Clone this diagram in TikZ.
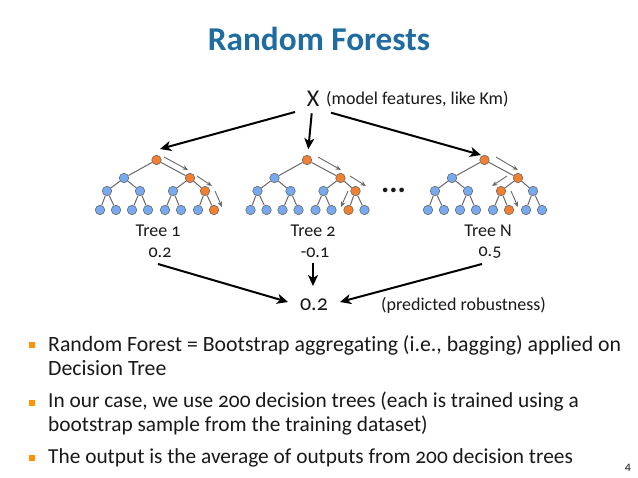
\documentclass[tikz,border=0pt]{standalone}
\usepackage{fontspec}
\setmainfont[Numbers=OldStyle,Ligatures=NoCommon]{Carlito}
\usetikzlibrary{arrows.meta}
\definecolor{titleblue}{RGB}{30,108,160}
\definecolor{txt}{RGB}{25,25,25}
\definecolor{dotblue}{RGB}{118,170,240}
\definecolor{dotorange}{RGB}{242,128,48}
\definecolor{edgegray}{RGB}{105,105,105}
\tikzset{
  x=1pt,y=-1pt,
  dot/.style={circle,draw=edgegray,line width=0.6pt,fill=dotblue,minimum size=9.5pt,inner sep=0pt},
  hot/.style={fill=dotorange},
  edge/.style={draw=edgegray,line width=1pt},
  flow/.style={draw=edgegray,line width=0.9pt,-{Stealth[length=5.5pt,width=4.5pt]}},
  bigarrow/.style={draw=black,line width=2pt,-{Stealth[length=11pt,width=10pt,inset=3pt]}},
  lab/.style={font=\fontsize{18}{20}\selectfont,text=txt,inner sep=0pt},
  body/.style={font=\fontsize{21.8}{24}\selectfont,text=txt,inner sep=0pt,anchor=west},
  bodyb/.style={font=\fontsize{21.35}{24}\selectfont,text=txt,inner sep=0pt,anchor=west},
  bullet/.style={fill=orange!85!yellow,minimum size=6pt,inner sep=0pt},
  c1n1/.style={hot},c1n3/.style={hot},c1n7/.style={hot},c1n15/.style={hot},
  c2n1/.style={hot},c2n3/.style={hot},c2n7/.style={hot},c2n14/.style={hot},
  c3n1/.style={hot},c3n3/.style={hot},c3n6/.style={hot},c3n13/.style={hot},
}
\newcommand{\maketree}[2]{%
  \begin{scope}[xshift=#2pt]
    \foreach \i/\px/\py in {1/156.5/160,2/124/178,3/190/178,4/107/191,5/140/191,6/173/191,7/205/191,
      8/100/210,9/116/210,10/132/210,11/148/210,12/165/210,13/181/210,14/198/210,15/214/210}{
      \node[dot,c#1n\i/.try] (t#1n\i) at (\px,\py) {};
    }
    \foreach \p/\c in {1/2,1/3,2/4,2/5,3/6,3/7,4/8,4/9,5/10,5/11,6/12,6/13,7/14,7/15}{
      \draw[edge] (t#1n\p) -- (t#1n\c);
    }
  \end{scope}}
\begin{document}
\begin{tikzpicture}
\useasboundingbox (0,0) rectangle (638,478);
\fill[white] (0,0) rectangle (638,478);
\node[font=\fontsize{33.3}{36}\selectfont\bfseries,text=titleblue,inner sep=0pt] (title) at (319,39) {Random Forests};
\node[font=\fontsize{24}{26}\selectfont,text=txt,inner sep=0pt] (x) at (313,99) {X};
\node[lab,anchor=west] (xnote) at (326,99) {(model features, like Km)};
\maketree{1}{0}
\maketree{2}{150.5}
\maketree{3}{328}
\node[font=\fontsize{31}{33}\selectfont\bfseries,text=txt,inner sep=0pt] (dots) at (393.5,190) {...};
\node[lab] (tree1) at (158,231) {Tree 1};
\node[lab] (tree2) at (313,231) {Tree 2};
\node[lab] (treeN) at (488,231) {Tree N};
\node[lab] (v1) at (160,253) {0.2};
\node[lab] (v2) at (315,253) {-0.1};
\node[lab] (v3) at (490,253) {0.5};
\node[font=\fontsize{22}{24}\selectfont,text=txt,inner sep=0pt] (res) at (314,304.5) {0.2};
\node[lab,anchor=west] (rnote) at (381,305) {(predicted robustness)};
% big arrows
\coordinate (xa) at (295,112); \coordinate (xb) at (311.7,113.3); \coordinate (xc) at (331,112.7);
\coordinate (ra) at (160,149); \coordinate (rb) at (308.3,149.3); \coordinate (rc) at (481,155);
\draw[bigarrow] (xa) -- (ra);
\draw[bigarrow] (xb) -- (rb);
\draw[bigarrow] (xc) -- (rc);
\coordinate (va) at (158,264); \coordinate (vb) at (313,263); \coordinate (vc) at (482,264);
\coordinate (pa) at (288,302); \coordinate (pb) at (313,286); \coordinate (pc) at (340,302);
\draw[bigarrow] (va) -- (pa);
\draw[bigarrow] (vb) -- (pb);
\draw[bigarrow] (vc) -- (pc);
% small flow arrows
\draw[flow] (164,157) -- (188,170);
\draw[flow] (197,176) -- (212,186);
\draw[flow] (215,191) -- (222,207);
\draw[flow] (318,157) -- (341,170);
\draw[flow] (350,176) -- (366,186);
\draw[flow] (348,191) -- (341,207);
\draw[flow] (496,157) -- (518,170);
\draw[flow] (507,176) -- (492,186);
\draw[flow] (511,191) -- (518,207);
% bullets
\node[bullet] (b1) at (32,345) {};
\node[bullet] (b2) at (32,403) {};
\node[bullet] (b3) at (32,458) {};
\node[body] (l1) at (48,345) {Random Forest = Bootstrap aggregating (i.e., bagging) applied on};
\node[body] (l2) at (48,368) {Decision Tree};
\node[bodyb] (l3) at (48,402) {In our case, we use 200 decision trees (each is trained using a};
\node[bodyb] (l4) at (48,426) {bootstrap sample from the training dataset)};
\node[bodyb] (l5) at (48,458) {The output is the average of outputs from 200 decision trees};
\node[font=\fontsize{12}{14}\selectfont,text=txt,inner sep=0pt] (page) at (628,468) {4};
\end{tikzpicture}
\end{document}
